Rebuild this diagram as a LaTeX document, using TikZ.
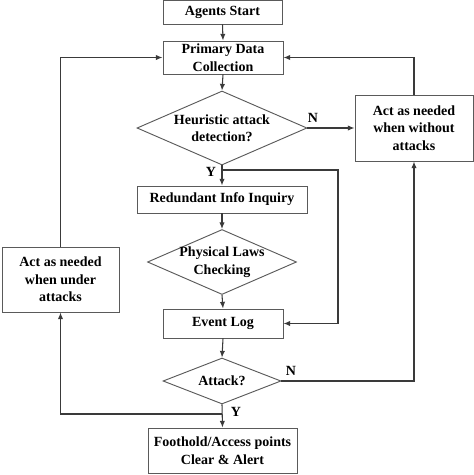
\documentclass[tikz,border=0pt]{standalone}
\usepackage{fontspec}
\setmainfont{Liberation Serif}
\usetikzlibrary{arrows.meta,shapes.geometric}
\definecolor{ln}{HTML}{3A3A3A}
\definecolor{bx}{HTML}{5A5A5A}
\begin{document}
\begin{tikzpicture}[x=0.75pt,y=-0.75pt,
  every node/.style={font=\bfseries\fontsize{10.5}{13.1}\selectfont,text=black},
  boxnode/.style={draw=bx,line width=0.7pt,rectangle,inner sep=0pt,align=center},
  dianode/.style={draw=bx,line width=0.7pt,diamond,inner sep=0pt},
  txt/.style={align=center,inner sep=0pt},
  conn/.style={draw=ln,line width=0.8pt,-{Latex[length=5pt,width=4pt]}},
  plain/.style={draw=ln,line width=0.8pt}]
\useasboundingbox (0,0) rectangle (474,475);
\node[boxnode,minimum width=89.25pt,minimum height=17.6pt] (start) at (222.5,12.25) {Agents Start};
\node[boxnode,minimum width=90pt,minimum height=24.75pt] (primary) at (223,57.5) {Primary Data\\Collection};
\node[dianode,minimum width=127.5pt,minimum height=55.5pt] (heur) at (222,128) {};
\node[txt] (heurt) at (222,128) {Heuristic attack\\detection?};
\node[boxnode,minimum width=88.5pt,minimum height=49.5pt] (without) at (414,128) {Act as needed\\when without\\attacks};
\node[boxnode,minimum width=127.5pt,minimum height=20.25pt] (redund) at (222,199.5) {Redundant Info Inquiry};
\node[dianode,minimum width=111.75pt,minimum height=48.75pt] (phys) at (222,262) {};
\node[txt] (physt) at (222,262) {Physical Laws\\Checking};
\node[boxnode,minimum width=90pt,minimum height=21.75pt] (event) at (223,323.5) {Event Log};
\node[dianode,minimum width=88.5pt,minimum height=34.5pt] (attack) at (222,381) {};
\node[txt] (attackt) at (222,381) {Attack?};
\node[boxnode,minimum width=111.75pt,minimum height=33.75pt] (foot) at (222.5,450.5) {Foothold/Access points\\Clear \& Alert};
\node[boxnode,minimum width=87.75pt,minimum height=48.75pt] (under) at (60.5,279.5) {Act as needed\\when under\\attacks};
% labels
\node[txt] (n1) at (313,118) {N};
\node[txt] (y1) at (211,172) {Y};
\node[txt] (n2) at (291,371) {N};
\node[txt] (y2) at (236,412) {Y};
% connectors
\draw[conn] (start.south) -- (primary.north);
\draw[conn] (primary.south) -- (heur.north);
\draw[conn] (heur.east) -- (without.west);
\draw[conn] (heur.south) -- (redund.north);
\coordinate (b1) at (222,170);
\coordinate (b2) at (338,170);
\draw[conn] (b1) -- (b2) |- (event.east);
\draw[conn] (redund.south) -- (phys.north);
\draw[conn] (phys.south) -- (event.north);
\draw[conn] (event.south) -- (attack.north);
\draw[conn] (attack.east) -| (without.south);
\draw[conn] (attack.south) -- (foot.north);
\coordinate (b3) at (222,414);
\draw[conn] (b3) -| (under.south);
\draw[conn] (under.north) |- (primary.west);
\draw[conn] (without.north) |- (primary.east);
\end{tikzpicture}
\end{document}
